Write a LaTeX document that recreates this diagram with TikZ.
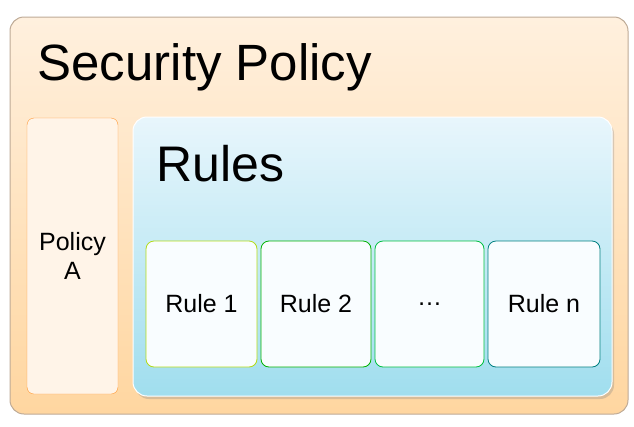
\documentclass[tikz,border=0pt]{standalone}
\usepackage{fontspec}
\setmainfont{Liberation Sans}
\usetikzlibrary{shadows}
\definecolor{outerTop}{RGB}{255,240,222}
\definecolor{outerBot}{RGB}{255,214,160}
\definecolor{outerLine}{RGB}{190,170,150}
\definecolor{rulesTop}{RGB}{232,246,252}
\definecolor{rulesBot}{RGB}{160,222,238}
\tikzset{
  panel/.style={rounded corners=14pt, draw=#1, line width=1pt},
  rulebox/.style={rounded corners=8pt, draw=#1, line width=0.8pt, fill=white!92!cyan!30,
    font=\fontsize{25}{30}\selectfont}
}
\begin{document}
\begin{tikzpicture}[x=1pt,y=-1pt]
    \useasboundingbox (0,0) rectangle (634,426);
    % Outer frame
    \draw [panel=outerLine, top color=outerTop, bottom color=outerBot]
      (10,17) rectangle (628,414);
    \node (title) [anchor=west, font=\fontsize{51}{58}\selectfont] at (34,67) {Security Policy};

    % Policy A
    \node (polA) [draw=orange!80, rounded corners=7pt, fill=white!80!orange!45,
      minimum width=91pt, minimum height=276pt, align=center,
      font=\fontsize{25}{29}\selectfont] at (72.5,256) {Policy\\A};

    % Rules container
    \draw [panel=white, top color=rulesTop, bottom color=rulesBot,
      drop shadow={shadow xshift=2pt, shadow yshift=-3pt, opacity=0.3}]
      (133,117) rectangle (612,396);
    \node (rules) [anchor=west, font=\fontsize{50}{56}\selectfont] at (153,164) {Rules};

    % Rule boxes
    \foreach \x/\w/\c/\t/\n in {146/111/yellow!70!green/Rule 1/r1,
                                261/110/green!70!black/Rule 2/r2,
                                375/109/green!50!teal/\dots/r3,
                                488/112/teal/Rule n/rn}{%
        \node (\n) [rulebox=\c, minimum width=\w pt, minimum height=126pt] at (\x+\w/2,304) {\t};
    }
\end{tikzpicture}
\end{document}
